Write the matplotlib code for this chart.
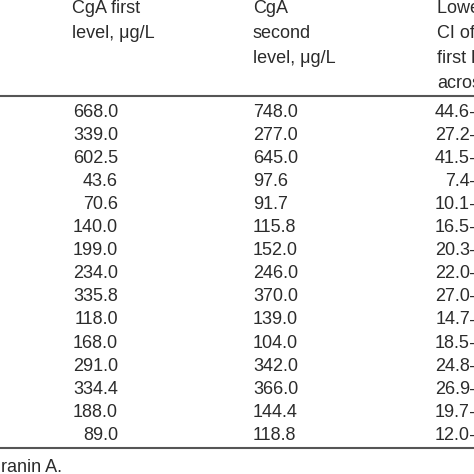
import matplotlib
matplotlib.use('Agg')
from matplotlib import pyplot as plt

plt.rcParams['font.family'] = ['Liberation Sans', 'DejaVu Sans']

first_level = ['668.0', '339.0', '602.5', '43.6', '70.6', '140.0', '199.0', '234.0',
               '335.8', '118.0', '168.0', '291.0', '334.4', '188.0', '89.0']
second_level = ['748.0', '277.0', '645.0', '97.6', '91.7', '115.8', '152.0', '246.0',
                '370.0', '139.0', '104.0', '342.0', '366.0', '144.4', '118.8']
lower_ci = ['44.6', '27.2', '41.5', '7.4', '10.1', '16.5', '20.3', '22.0',
            '27.0', '14.7', '18.5', '24.8', '26.9', '19.7', '12.0']

W = H = 474
fig = plt.figure(figsize=(4.74, 4.74), dpi=100)
ax = fig.add_axes([0, 0, 1, 1])
ax.set_xlim(0, W)
ax.set_ylim(H, 0)
ax.axis('off')

col = '#2b2b2b'
fs = 13

# 表头
for i, s in enumerate(['CgA first', 'level, \u03bcg/L']):
    ax.text(72, 8 + i * 25, s, fontsize=fs, color=col, va='center')
for i, s in enumerate(['CgA', 'second', 'level, \u03bcg/L']):
    ax.text(253, 8 + i * 25, s, fontsize=fs, color=col, va='center')
for i, s in enumerate(['Lower 95%', 'CI of the', 'first level', 'across']):
    ax.text(437, 8 + i * 25, s, fontsize=fs, color=col, va='center')

ax.axhline(96, color='#555555', lw=1.5)

# 数据行
for i in range(len(first_level)):
    y = 112 + i * 23.1
    ax.text(118, y, first_level[i], fontsize=fs, color=col, va='center', ha='right')
    ax.text(253, y, second_level[i], fontsize=fs, color=col, va='center', ha='left')
    # 右侧列被图片边缘截断
    ax.text(470, y, lower_ci[i], fontsize=fs, color=col, va='center', ha='right')
    ax.text(470, y, '\u2013', fontsize=fs, color=col, va='center', ha='left')

ax.axhline(448, color='#555555', lw=1.5)
ax.text(62, 467, 'CgA, chromogranin A.', fontsize=fs, color=col, va='center', ha='right')

plt.savefig('out.png', dpi=100)
